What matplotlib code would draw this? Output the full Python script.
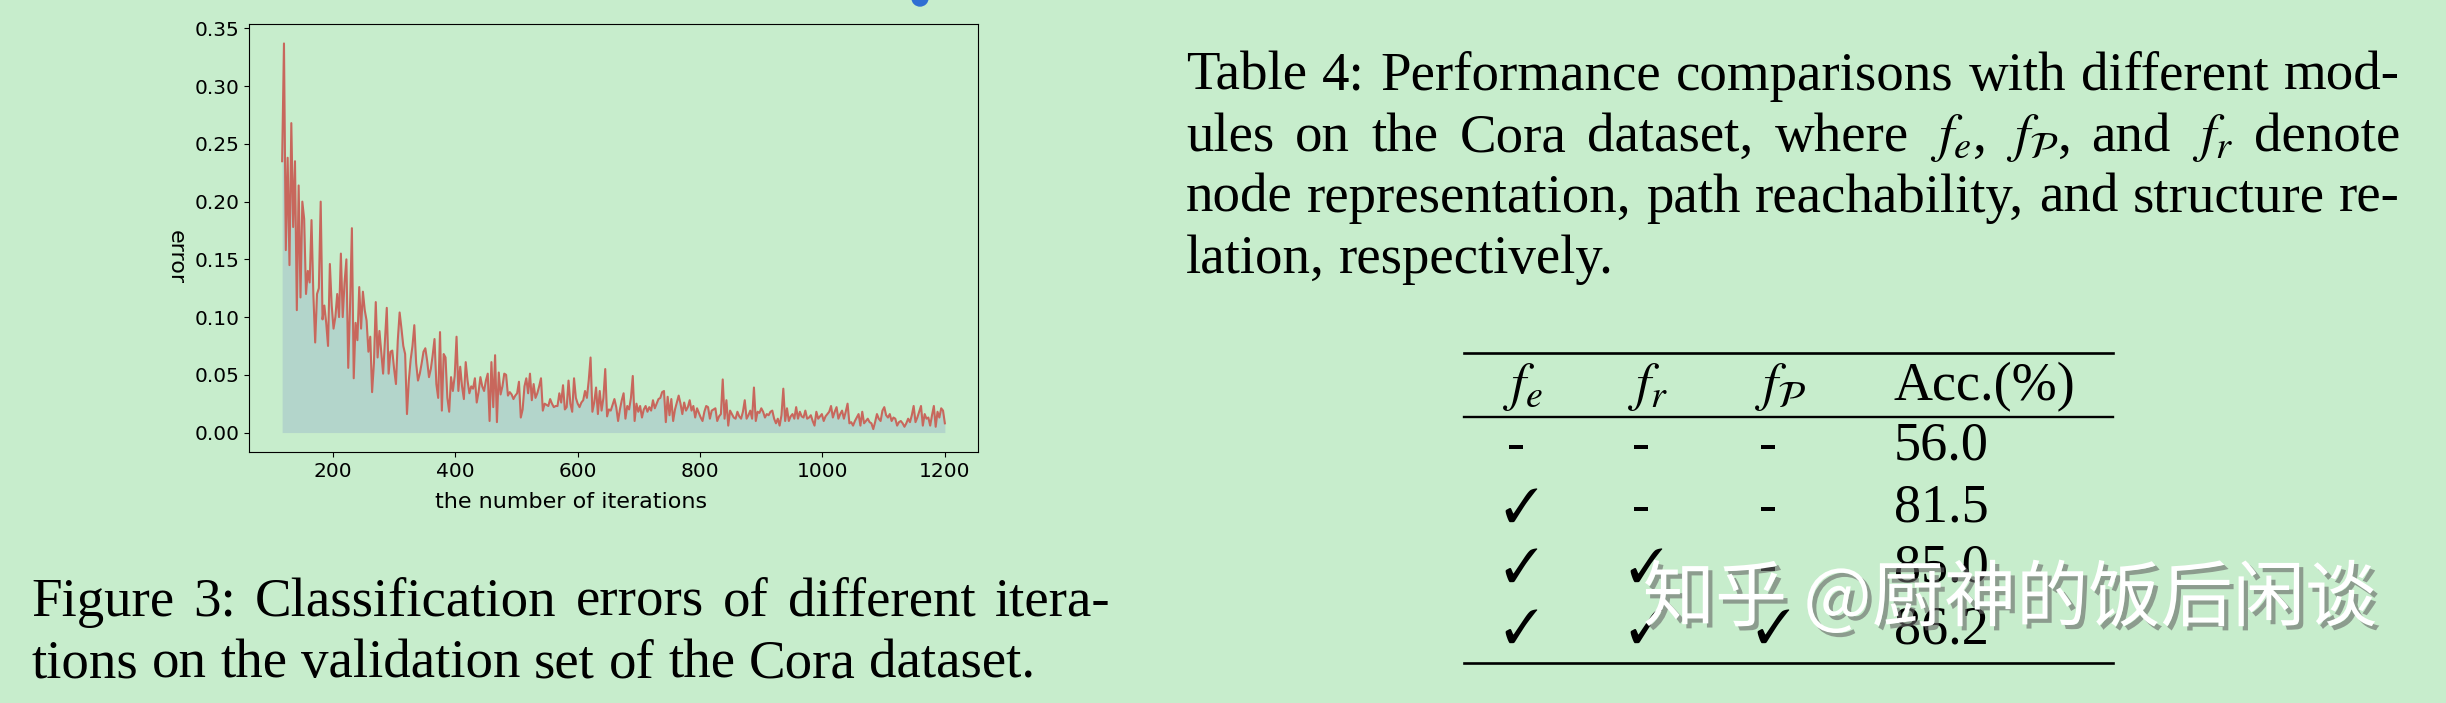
import matplotlib
matplotlib.use("Agg")
import matplotlib.pyplot as plt
import matplotlib.patheffects as pe
from matplotlib.patches import Ellipse

# =========================
# DATA
# =========================
iterations = list(range(117, 1201, 3))
error = [
    0.235, 0.337, 0.158, 0.238, 0.145, 0.268, 0.178, 0.235, 0.106, 0.214,
    0.117, 0.200, 0.185, 0.120, 0.140, 0.130, 0.184, 0.120, 0.078, 0.120,
    0.125, 0.200, 0.098, 0.110, 0.095, 0.075, 0.146, 0.110, 0.090, 0.100,
    0.120, 0.100, 0.155, 0.100, 0.130, 0.150, 0.056, 0.110, 0.177, 0.047,
    0.095, 0.080, 0.126, 0.090, 0.122, 0.106, 0.097, 0.070, 0.083, 0.035,
    0.060, 0.113, 0.065, 0.088, 0.070, 0.051, 0.080, 0.108, 0.051, 0.070,
    0.071, 0.055, 0.042, 0.080, 0.104, 0.090, 0.075, 0.068, 0.016, 0.045,
    0.063, 0.075, 0.093, 0.060, 0.045, 0.051, 0.060, 0.070, 0.073, 0.062,
    0.048, 0.055, 0.067, 0.081, 0.042, 0.030, 0.087, 0.019, 0.068, 0.065,
    0.030, 0.018, 0.048, 0.036, 0.049, 0.083, 0.036, 0.057, 0.040, 0.029,
    0.061, 0.045, 0.034, 0.040, 0.038, 0.047, 0.026, 0.035, 0.048, 0.040,
    0.036, 0.045, 0.051, 0.010, 0.061, 0.022, 0.067, 0.009, 0.052, 0.033,
    0.040, 0.051, 0.050, 0.032, 0.035, 0.033, 0.029, 0.032, 0.034, 0.044,
    0.013, 0.020, 0.040, 0.047, 0.034, 0.051, 0.028, 0.042, 0.030, 0.034,
    0.040, 0.047, 0.019, 0.025, 0.024, 0.023, 0.029, 0.025, 0.022, 0.023,
    0.023, 0.034, 0.026, 0.041, 0.020, 0.022, 0.045, 0.025, 0.018, 0.047,
    0.030, 0.025, 0.022, 0.026, 0.028, 0.036, 0.030, 0.045, 0.065, 0.018,
    0.026, 0.039, 0.016, 0.036, 0.019, 0.030, 0.055, 0.014, 0.020, 0.019,
    0.024, 0.029, 0.022, 0.010, 0.020, 0.028, 0.034, 0.012, 0.023, 0.020,
    0.030, 0.049, 0.010, 0.025, 0.018, 0.023, 0.013, 0.020, 0.023, 0.018,
    0.022, 0.019, 0.028, 0.021, 0.025, 0.029, 0.030, 0.035, 0.036, 0.009,
    0.031, 0.015, 0.029, 0.010, 0.020, 0.026, 0.032, 0.025, 0.016, 0.026,
    0.019, 0.022, 0.028, 0.019, 0.023, 0.013, 0.021, 0.017, 0.013, 0.010,
    0.018, 0.023, 0.022, 0.012, 0.019, 0.020, 0.021, 0.010, 0.014, 0.016,
    0.046, 0.012, 0.028, 0.006, 0.019, 0.016, 0.013, 0.012, 0.018, 0.014,
    0.012, 0.018, 0.028, 0.012, 0.015, 0.019, 0.012, 0.039, 0.010, 0.018,
    0.017, 0.021, 0.018, 0.013, 0.016, 0.015, 0.018, 0.019, 0.012, 0.008,
    0.012, 0.006, 0.015, 0.038, 0.010, 0.021, 0.010, 0.014, 0.016, 0.012,
    0.022, 0.012, 0.018, 0.014, 0.013, 0.019, 0.012, 0.013, 0.015, 0.010,
    0.006, 0.018, 0.012, 0.014, 0.016, 0.010, 0.014, 0.016, 0.018, 0.023,
    0.013, 0.018, 0.022, 0.012, 0.016, 0.019, 0.012, 0.018, 0.025, 0.008,
    0.009, 0.006, 0.010, 0.013, 0.016, 0.006, 0.018, 0.008, 0.010, 0.012,
    0.009, 0.008, 0.003, 0.009, 0.016, 0.012, 0.010, 0.019, 0.022, 0.015,
    0.013, 0.016, 0.010, 0.013, 0.012, 0.006, 0.009, 0.010, 0.008, 0.005,
    0.008, 0.012, 0.009, 0.015, 0.023, 0.009, 0.013, 0.018, 0.023, 0.006,
    0.016, 0.012, 0.013, 0.006, 0.015, 0.023, 0.005, 0.018, 0.013, 0.021,
    0.019, 0.008,
]

fig_caption = [
    "Figure 3:  Classification errors of different itera-",
    "tions on the validation set of the Cora dataset.",
]
table_caption = [
    "Table 4: Performance comparisons with different mod-",
    r"ules on the Cora dataset, where $f_e$, $f_{\mathcal{P}}$, and $f_r$ denote",
    "node representation, path reachability, and structure re-",
    "lation, respectively.",
]
table_header = [r"$f_e$", r"$f_r$", r"$f_{\mathcal{P}}$", "Acc.(%)"]
table_rows = [
    ["-", "-", "-", "56.0"],
    ["check", "-", "-", "81.5"],
    ["check", "check", "-", "85.0"],
    ["check", "check", "check", "86.2"],
]
watermark = "知乎 @厨神的饭后闲谈"

# =========================
# STYLE
# =========================
BG = "#C7EDCC"
W, H = 2446, 703
SERIF = ["Liberation Serif", "DejaVu Serif"]
plt.rcParams["mathtext.fontset"] = "stix"

fig = plt.figure(figsize=(W / 100, H / 100), dpi=100, facecolor=BG)


def fx(px):
    return px / W


def fy(py):
    return 1 - py / H


# =========================
# CHART
# =========================
ax = fig.add_axes([fx(249), fy(452), fx(978) - fx(249), fy(24) - fy(452)])
ax.set_facecolor(BG)
ax.fill_between(iterations, error, color="#B3D5CB", linewidth=0)
ax.plot(iterations, error, color="#C8675C", linewidth=1.5)
ax.tick_params(labelsize=14.5)
ax.set_xlabel("the number of iterations", fontsize=16)
ax.xaxis.set_label_coords(0.442, -0.093)
ax.set_ylabel("error", fontsize=16, rotation=270, va="center")
ax.yaxis.set_label_coords(-0.101, 0.455)

# partial blue dot cut at the top edge
fig.patches.append(Ellipse((fx(920), fy(-2)), 16 / W, 16 / H,
                           transform=fig.transFigure, color="#2F6FD3"))

# =========================
# TEXT (justified lines)
# =========================
renderer = fig.canvas.get_renderer()


def put_line(line, x0, x1, y, size, justify=True):
    parts = [w for w in line.split(" ") if w != ""]
    texts = [fig.text(fx(x0), fy(y), w, fontsize=size, family=SERIF,
                      va="baseline", ha="left") for w in parts]
    widths = [t.get_window_extent(renderer).width for t in texts]
    space = 0.25 * size * 100 / 72
    if justify and len(parts) > 1:
        gap = (x1 - x0 - sum(widths)) / (len(parts) - 1)
    else:
        gap = space
    x = x0
    for t, w in zip(texts, widths):
        t.set_x(fx(x))
        x += w + gap


for i, line in enumerate(fig_caption):
    put_line(line, 31, 1110, 616 + i * 61, 39.5, justify=(i < len(fig_caption) - 1))

for i, line in enumerate(table_caption):
    put_line(line, 1186, 2400, 90 + i * 61, 39.5, justify=(i < len(table_caption) - 1))

# =========================
# TABLE
# =========================
col_x = [1503, 1628, 1755, 1894]
for y, lw in [(353, 1.9), (417, 1.7), (663, 1.9)]:
    fig.add_artist(plt.Line2D([fx(1464), fx(2113)], [fy(y), fy(y)],
                              color="black", linewidth=lw))

for x, s in zip(col_x, table_header):
    fig.text(fx(x), fy(400), s, fontsize=39, family=SERIF, va="baseline")

row_y = [460, 522, 582, 643]
for y, row in zip(row_y, table_rows):
    for x, s in zip(col_x, row):
        if s == "check":
            fig.text(fx(x), fy(y), r"$\checkmark$", fontsize=34,
                     family=SERIF, va="baseline")
        else:
            fig.text(fx(x + 4 if s == "-" else x), fy(y), s, fontsize=39,
                     family=SERIF, va="baseline")

# watermark
fig.text(fx(2010), fy(600), watermark, fontsize=52, color="white",
         family=["Noto Sans CJK SC", "DejaVu Sans"], ha="center", va="center",
         path_effects=[pe.withSimplePatchShadow(offset=(3, -3),
                                                shadow_rgbFace="#666666",
                                                alpha=0.6)])

fig.savefig("out.png", dpi=100, facecolor=BG)
